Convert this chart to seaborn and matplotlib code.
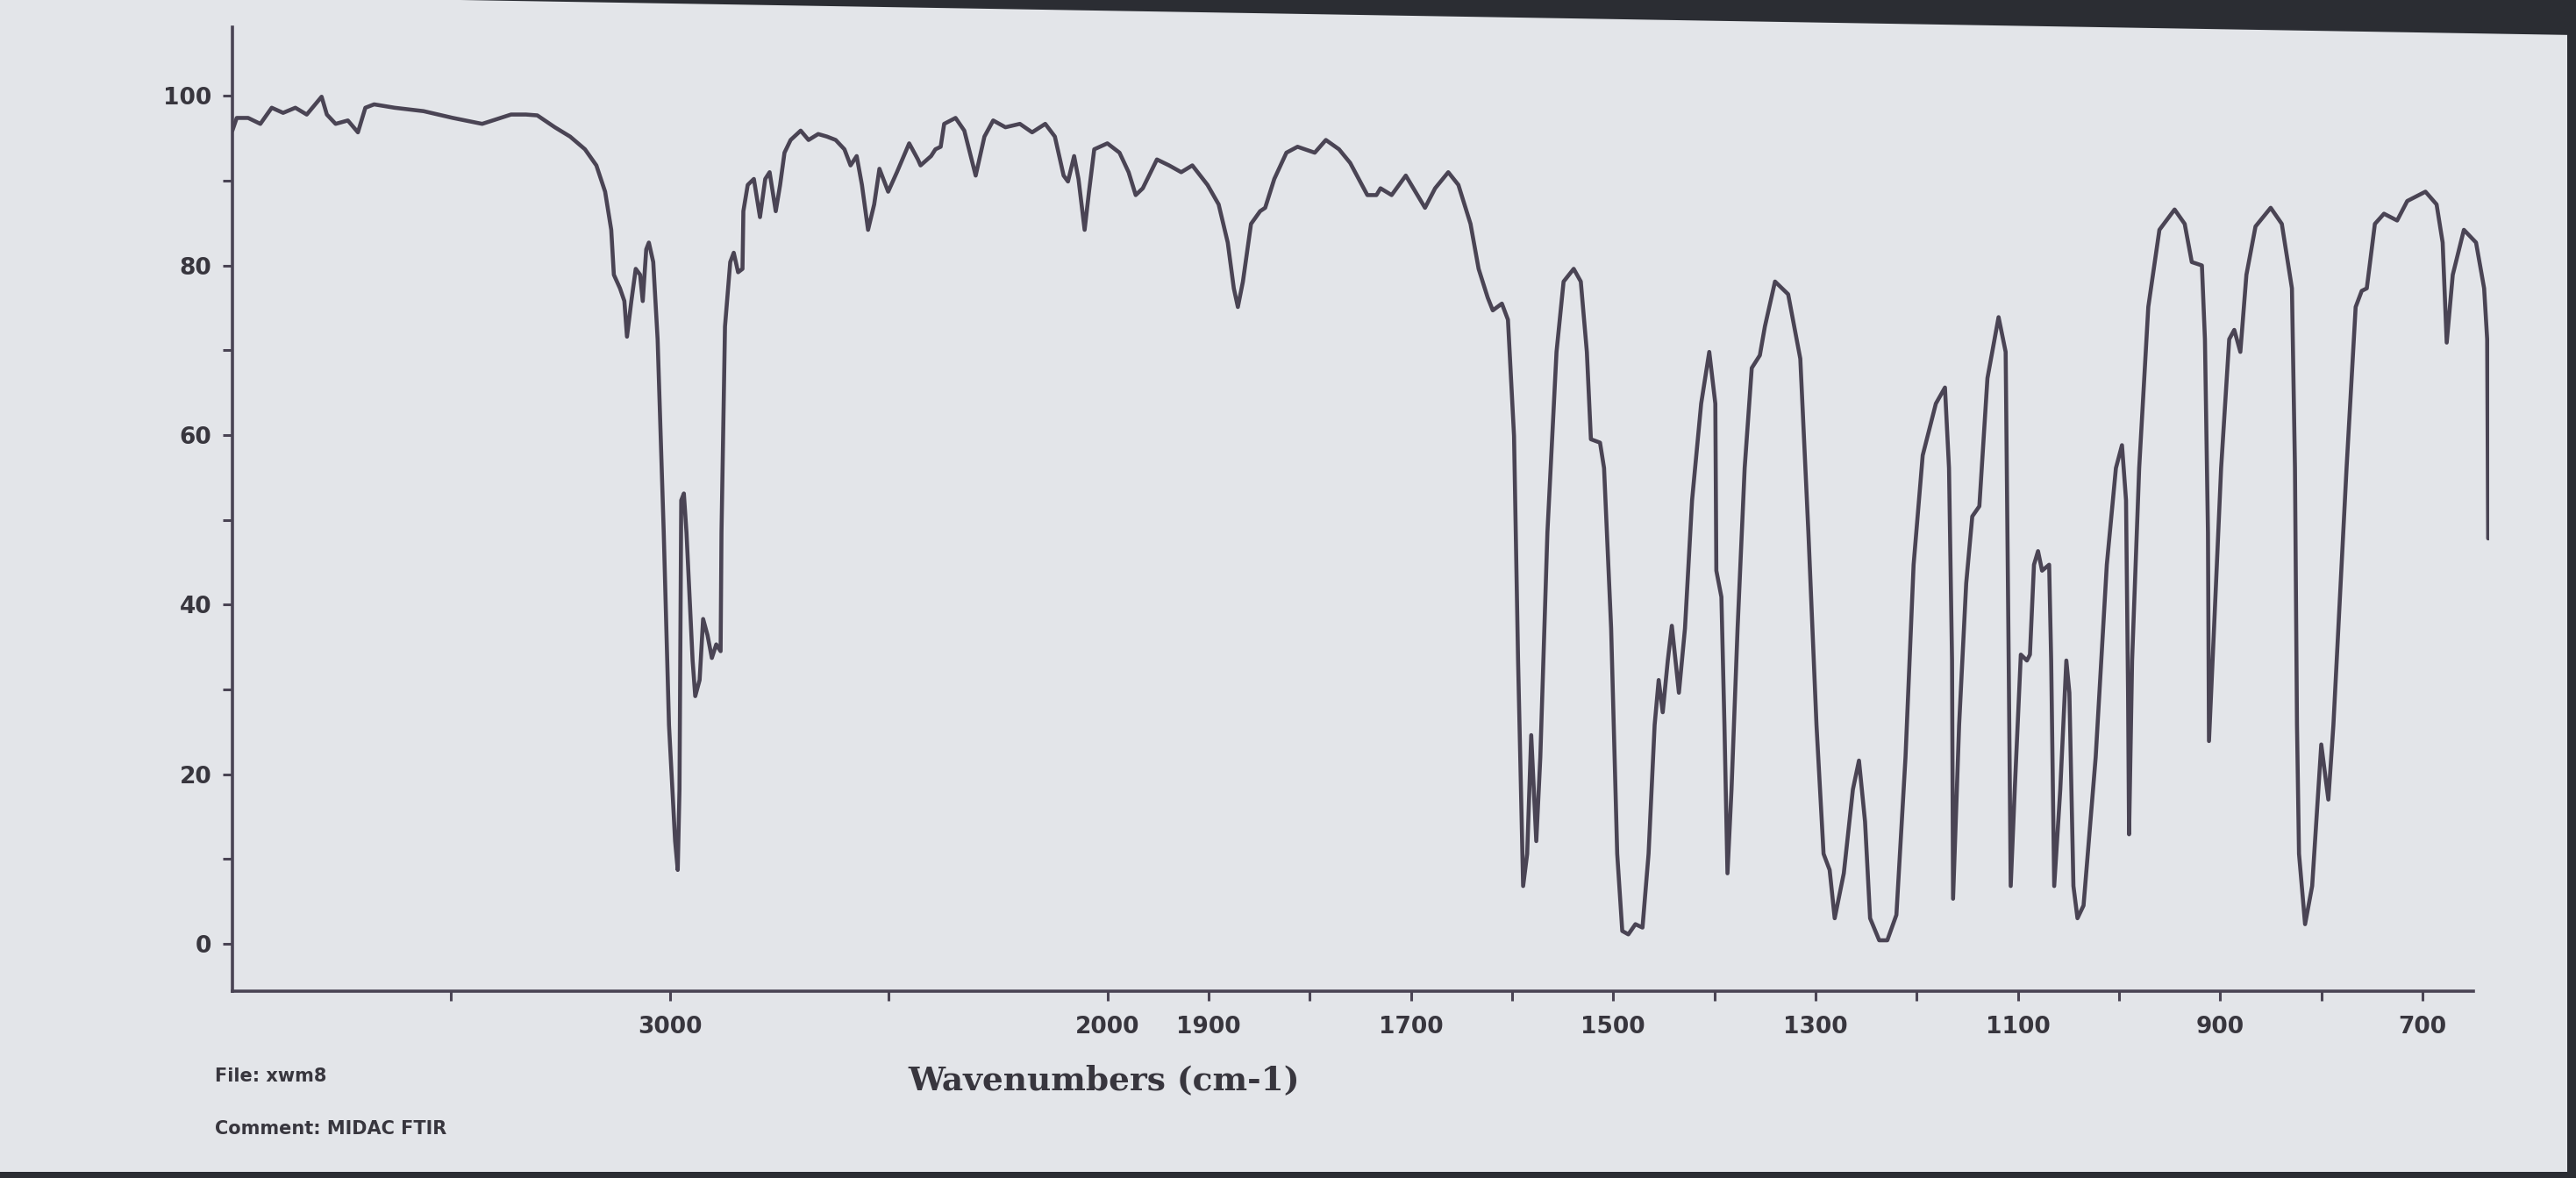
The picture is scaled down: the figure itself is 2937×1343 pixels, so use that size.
import matplotlib
matplotlib.use('Agg')
import numpy as np
import pandas as pd
import matplotlib.pyplot as plt
import seaborn as sns
from matplotlib.patches import Rectangle, Polygon

# %T trace, 4000 -> 2000 cm-1 (compressed part of the axis)
wn_high = [4000, 3990, 3964, 3936, 3910, 3884, 3856, 3830, 3796, 3784,
           3764, 3736, 3713, 3696, 3676, 3629, 3563, 3496, 3429, 3363,
           3329, 3303, 3263, 3228, 3194, 3168, 3148, 3134, 3128, 3114,
           3104, 3098, 3088, 3078, 3068, 3062, 3054, 3048, 3038, 3028,
           3014, 3002, 2988, 2982, 2978, 2974, 2968, 2962, 2948, 2942,
           2932, 2924, 2914, 2904, 2894, 2884, 2882, 2874, 2862, 2854,
           2844, 2834, 2832, 2822, 2808, 2794, 2782, 2772, 2758, 2748,
           2738, 2724, 2701, 2683, 2661, 2641, 2621, 2601, 2587, 2573,
           2561, 2547, 2533, 2521, 2501, 2481, 2453, 2433, 2427, 2403,
           2393, 2381, 2373, 2347, 2327, 2301, 2281, 2261, 2233, 2200,
           2172, 2142, 2120, 2100, 2090, 2076, 2066, 2052, 2042, 2030, 2000]
t_high = [95.9, 97.4, 97.4, 96.7, 98.6, 98.0, 98.6, 97.8, 99.9, 97.8,
          96.7, 97.1, 95.7, 98.6, 99.0, 98.6, 98.2, 97.4, 96.7, 97.8,
          97.8, 97.7, 96.3, 95.2, 93.7, 91.8, 88.7, 84.2, 78.9, 77.3,
          75.8, 71.6, 75.8, 79.6, 78.9, 75.8, 81.9, 82.7, 80.4, 71.3,
          48.5, 25.8, 12.1, 8.7, 18.2, 52.3, 53.1, 48.5, 33.4, 29.2,
          31.1, 38.3, 36.4, 33.7, 35.3, 34.5, 48.5, 72.8, 80.4, 81.5,
          79.2, 79.6, 86.4, 89.5, 90.2, 85.7, 90.2, 91.0, 86.4, 89.5,
          93.3, 94.8, 95.9, 94.8, 95.5, 95.2, 94.8, 93.7, 91.8, 92.9,
          89.5, 84.2, 87.2, 91.4, 88.7, 91.0, 94.4, 92.5, 91.8, 92.9,
          93.7, 94.0, 96.7, 97.4, 95.9, 90.6, 95.2, 97.1, 96.3, 96.7,
          95.7, 96.7, 95.2, 90.6, 89.9, 92.9, 90.2, 84.2, 88.7, 93.7, 94.4]

# 2000 -> 634 cm-1 (expanded part)
wn_low = [1988, 1979, 1972, 1965, 1951, 1939, 1927, 1916, 1901, 1890,
          1881, 1875, 1871, 1866, 1858, 1849, 1844, 1835, 1823, 1812,
          1795, 1784, 1771, 1760, 1743, 1734, 1730, 1719, 1705, 1686,
          1676, 1663, 1653, 1641, 1633, 1624, 1619, 1610, 1604, 1598,
          1594, 1589, 1585, 1581, 1576, 1572, 1565, 1556, 1549, 1539,
          1532, 1526, 1522, 1513, 1509, 1502, 1496, 1491, 1485, 1478,
          1471, 1465, 1459, 1455, 1451, 1446, 1442, 1435, 1429, 1422,
          1413, 1405, 1399, 1398, 1393, 1390, 1387, 1383, 1377, 1370,
          1363, 1355, 1350, 1340, 1327, 1315, 1307, 1299, 1292, 1286,
          1281, 1272, 1263, 1257, 1251, 1246, 1237, 1229, 1220, 1211,
          1203, 1194, 1181, 1172, 1168, 1165, 1164, 1158, 1151, 1145,
          1138, 1130, 1119, 1112, 1109, 1107, 1103, 1097, 1091, 1088,
          1084, 1080, 1076, 1069, 1067, 1064, 1058, 1052, 1049, 1045,
          1041, 1035, 1023, 1012, 1003, 997, 993, 991, 990, 987,
          980, 971, 960, 945, 935, 928, 918, 915, 912, 911,
          906, 899, 891, 886, 880, 874, 865, 850, 839, 829,
          826, 824, 822, 816, 809, 800, 793, 788, 775, 766,
          760, 755, 747, 738, 725, 715, 697, 686, 680, 676,
          670, 659, 647, 639, 636, 635]
t_low = [93.3, 91.0, 88.3, 89.1, 92.5, 91.8, 91.0, 91.8, 89.5, 87.2,
         82.7, 77.3, 75.1, 78.1, 84.9, 86.4, 86.8, 90.2, 93.3, 94.0,
         93.3, 94.8, 93.7, 92.1, 88.3, 88.3, 89.1, 88.3, 90.6, 86.8,
         89.1, 91.0, 89.5, 84.9, 79.6, 76.2, 74.7, 75.5, 73.6, 59.9,
         33.4, 6.8, 10.6, 24.6, 12.1, 22.0, 48.5, 69.8, 78.1, 79.6,
         78.1, 69.8, 59.5, 59.1, 56.1, 37.2, 10.6, 1.5, 1.1, 2.3,
         1.9, 10.6, 25.8, 31.1, 27.3, 33.4, 37.5, 29.6, 37.2, 52.3,
         63.7, 69.8, 63.7, 44.0, 40.9, 25.8, 8.3, 18.2, 37.2, 56.1,
         67.9, 69.4, 72.8, 78.1, 76.6, 69.0, 48.5, 25.8, 10.6, 8.7,
         3.0, 8.3, 18.2, 21.6, 14.4, 3.0, 0.4, 0.4, 3.4, 22.0,
         44.7, 57.6, 63.7, 65.6, 56.1, 33.4, 5.3, 25.8, 42.5, 50.4,
         51.6, 66.7, 73.9, 69.8, 33.4, 6.8, 18.2, 34.1, 33.4, 34.1,
         44.7, 46.3, 44.0, 44.7, 33.4, 6.8, 18.2, 33.4, 29.6, 6.8,
         3.0, 4.5, 22.0, 44.7, 56.1, 58.8, 52.3, 29.6, 12.9, 33.4,
         56.1, 75.1, 84.2, 86.6, 84.9, 80.4, 80.0, 71.3, 48.5, 23.9,
         37.2, 56.1, 71.3, 72.4, 69.8, 78.9, 84.6, 86.8, 84.9, 77.3,
         56.1, 25.8, 10.6, 2.3, 6.8, 23.5, 17.0, 25.8, 56.1, 75.1,
         77.0, 77.3, 84.9, 86.1, 85.3, 87.6, 88.7, 87.2, 82.7, 70.9,
         78.9, 84.2, 82.7, 77.3, 71.3, 47.8]

x_ticks = [3500, 3000, 2500, 2000, 1900, 1800, 1700, 1600, 1500, 1400,
           1300, 1200, 1100, 1000, 900, 800, 700]
x_tick_labels = ['', '3000', '', '2000', '1900', '', '1700', '', '1500', '',
                 '1300', '', '1100', '', '900', '', '700']
y_ticks = [0, 20, 40, 60, 80, 100]
y_minor = [10, 30, 50, 70, 90]

# above 2000 cm-1 the printout squeezes the axis
SQUEEZE = 0.4325


def forward(w):
    w = np.asarray(w, dtype=float)
    return np.where(w <= 2000, w, 2000 + (w - 2000) * SQUEEZE)


def inverse(p):
    p = np.asarray(p, dtype=float)
    return np.where(p <= 2000, p, 2000 + (p - 2000) / SQUEEZE)


df = pd.DataFrame({'wn': wn_high + wn_low, 'T': t_high + t_low})

bg = '#e3e5e9'
ink = '#4a4454'
txt = '#38363e'
edge = '#2b2d33'

sns.set_style('ticks')
plt.rcParams['font.family'] = ['DejaVu Sans']

W, H = 2937, 1343
fig = plt.figure(figsize=(W / 100, H / 100), dpi=100, facecolor=bg)
ax = fig.add_axes([0.0902, 0.1586, 0.8761, 0.8183])
ax.set_facecolor(bg)

sns.lineplot(data=df, x='wn', y='T', sort=False, estimator=None,
             color=ink, linewidth=3.3, ax=ax)

ax.set_xscale('function', functions=(forward, inverse))
ax.set_xlim(4000, 634)
ax.set_ylim(-5.6, 108.1)

ax.set_xticks(x_ticks)
ax.set_xticklabels(x_tick_labels)
ax.set_yticks(y_ticks)
ax.set_yticklabels([str(v) for v in y_ticks])
ax.set_yticks(y_minor, minor=True)
ax.xaxis.set_minor_locator(matplotlib.ticker.NullLocator())

ax.tick_params(axis='both', which='both', direction='out', length=8,
               width=2.2, color=ink, labelcolor=txt)
ax.tick_params(axis='x', pad=12)
ax.tick_params(axis='y', pad=9)
for lab in ax.get_xticklabels() + ax.get_yticklabels():
    lab.set_fontsize(19)
    lab.set_fontweight('bold')

for side in ['top', 'right']:
    ax.spines[side].set_visible(False)
for side in ['left', 'bottom']:
    ax.spines[side].set_linewidth(2.6)
    ax.spines[side].set_color(ink)
ax.spines['bottom'].set_bounds(4000, 650)

ax.set_xlabel('Wavenumbers (cm-1)', fontsize=27, fontweight='bold',
              family='DejaVu Serif', color=txt)
ax.xaxis.set_label_coords(0.3863, -0.0928)
ax.xaxis.label.set_va('center')
ax.set_ylabel('')

fig.text(245 / W, 1 - 1227 / H, 'File: xwm8', fontsize=15,
         fontweight='bold', color=txt, va='center')
fig.text(245 / W, 1 - 1287 / H, 'Comment: MIDAC FTIR', fontsize=15,
         fontweight='bold', color=txt, va='center')

# dark edges of the photographed screen
fig.add_artist(Polygon([(525 / W, 1), (1, 1), (1, 1 - 40 / H)], closed=True,
                       transform=fig.transFigure, color=edge, lw=0))
fig.add_artist(Rectangle((0, 0), 1, 7 / H,
                         transform=fig.transFigure, color=edge, lw=0))
fig.add_artist(Rectangle((1 - 10 / W, 0), 10 / W, 1,
                         transform=fig.transFigure, color=edge, lw=0))

plt.savefig('out.png', dpi=100, facecolor=bg)
